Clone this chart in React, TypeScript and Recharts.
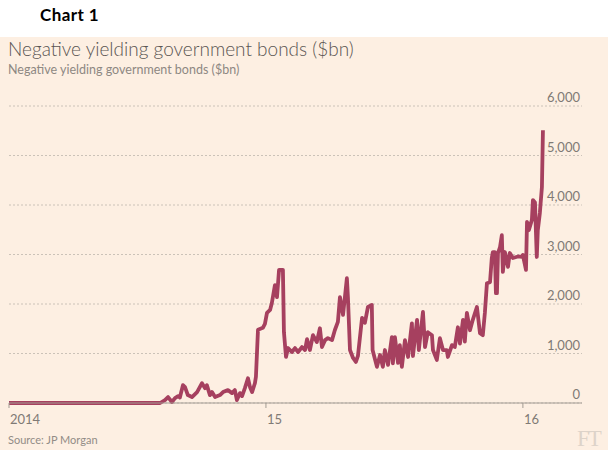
import { CartesianGrid, Line, LineChart, XAxis, YAxis } from 'recharts'

// Negative yielding government bonds, $bn. Dates as decimal years.
const YEARS = [
  2014.0, 2014.2, 2014.4, 2014.588, 2014.607, 2014.619, 2014.634, 2014.646, 2014.658, 2014.665,
  2014.677, 2014.685, 2014.696, 2014.712, 2014.732, 2014.751, 2014.763, 2014.77, 2014.782, 2014.79,
  2014.802, 2014.821, 2014.833, 2014.852, 2014.868, 2014.879, 2014.887, 2014.899, 2014.907, 2014.918,
  2014.93, 2014.938, 2014.946, 2014.957, 2014.961, 2014.969, 2014.988, 2014.996, 2015.004, 2015.016,
  2015.023, 2015.035, 2015.043, 2015.051, 2015.066, 2015.07, 2015.078, 2015.086, 2015.101, 2015.113,
  2015.125, 2015.14, 2015.152, 2015.16, 2015.171, 2015.183, 2015.198, 2015.21, 2015.218, 2015.23,
  2015.241, 2015.257, 2015.268, 2015.28, 2015.288, 2015.3, 2015.315, 2015.319, 2015.327, 2015.339,
  2015.35, 2015.358, 2015.374, 2015.385, 2015.397, 2015.412, 2015.415, 2015.432, 2015.444, 2015.455,
  2015.463, 2015.475, 2015.49, 2015.494, 2015.502, 2015.514, 2015.521, 2015.529, 2015.541, 2015.553,
  2015.568, 2015.572, 2015.588, 2015.595, 2015.611, 2015.619, 2015.63, 2015.646, 2015.65, 2015.665,
  2015.677, 2015.689, 2015.704, 2015.708, 2015.724, 2015.735, 2015.747, 2015.755, 2015.767, 2015.774,
  2015.782, 2015.794, 2015.805, 2015.821, 2015.833, 2015.844, 2015.852, 2015.86, 2015.872, 2015.879,
  2015.883, 2015.891, 2015.895, 2015.899, 2015.903, 2015.911, 2015.918, 2015.922, 2015.93, 2015.942,
  2015.949, 2015.961, 2015.981, 2015.996, 2016.0, 2016.012, 2016.016, 2016.023, 2016.035, 2016.039,
  2016.047, 2016.054, 2016.058, 2016.066, 2016.074, 2016.078,
]
const BONDS = [
  0, 0, 0, 0, 60, 120, 20, 100, 140, 110,
  360, 320, 160, 120, 220, 400, 300, 360, 160, 220,
  120, 160, 220, 260, 200, 260, 60, 200, 140, 300,
  500, 320, 220, 400, 530, 1480, 1520, 1600, 1820, 1880,
  2020, 2380, 2140, 2690, 2690, 1430, 930, 1110, 1030, 1110,
  1030, 1130, 1070, 1290, 1070, 1370, 1230, 1510, 1130, 1270,
  1310, 1270, 1470, 1640, 2140, 1780, 2520, 2140, 1070, 910,
  830, 950, 1720, 1620, 1940, 1980, 1070, 730, 970, 730,
  1070, 770, 1330, 800, 1330, 810, 1170, 730, 1270, 930,
  1610, 950, 1680, 1070, 1840, 1130, 1430, 1370, 1070, 870,
  1310, 1070, 1070, 930, 1170, 1130, 1530, 1200, 1680, 1240,
  1820, 1470, 1680, 1940, 1410, 1370, 1820, 2420, 2440, 2930,
  3050, 3050, 2220, 2220, 3030, 3150, 3390, 2650, 3050, 2750,
  3030, 2930, 2960, 2950, 2990, 2690, 3660, 3490, 3700, 4100,
  4050, 2950, 3490, 3840, 4360, 5510,
]

const X_TICKS = [2014, 2015, 2016]
const X_LABELS = ['2014', '15', '16']
const Y_TICKS = [0, 1000, 2000, 3000, 4000, 5000, 6000]
const Y_LABELS = ['0', '1,000', '2,000', '3,000', '4,000', '5,000', '6,000']

const BG = '#fdefe2'
const LINE = '#a6405f'
const AXIS_TEXT = '#807a75'
const GRID = '#cbc2b8'
const FONT = 'Lato, "Open Sans", sans-serif'

const data = YEARS.map((t, i) => ({ t, v: BONDS[i] }))

function XTick({ x, y, payload }: any) {
  const i = X_TICKS.indexOf(payload.value)
  return (
    <text x={x + 1} y={y + 14} textAnchor="start" fontSize={13} fill={AXIS_TEXT} fontFamily={FONT}>
      {X_LABELS[i]}
    </text>
  )
}

// Mirrored right axis: labels sit just above each gridline, right-aligned.
function YTick({ x, y, payload }: any) {
  const i = Y_TICKS.indexOf(payload.value)
  return (
    <text x={x - 2} y={y - 4} textAnchor="end" fontSize={13} fill={AXIS_TEXT} fontFamily={FONT}>
      {Y_LABELS[i]}
    </text>
  )
}

export default function App() {
  return (
    <div style={{ position: 'relative', width: 612, height: 459, background: '#fff', fontFamily: FONT }}>
      <style>{'body{margin:0}'}</style>
      <div
        style={{
          position: 'absolute', left: 40, top: 4, fontSize: 17, lineHeight: '21px',
          fontWeight: 700, color: '#000', letterSpacing: 0.4,
        }}
      >
        Chart 1
      </div>
      <div style={{ position: 'absolute', left: 0, top: 37, width: 608, height: 413, background: BG }} />
      <div
        style={{
          position: 'absolute', left: 8, top: 37, fontSize: 19, lineHeight: '24px',
          color: '#5a5552', whiteSpace: 'nowrap', fontWeight: 300,
        }}
      >
        Negative yielding government bonds ($bn)
      </div>
      <div
        style={{
          position: 'absolute', left: 8, top: 62, fontSize: 12.5, lineHeight: '15px',
          color: '#8e8882', whiteSpace: 'nowrap',
        }}
      >
        Negative yielding government bonds ($bn)
      </div>
      <div style={{ position: 'absolute', left: 0, top: 0 }}>
        <LineChart width={612} height={459} data={data} margin={{ top: 106, right: 30, bottom: 26, left: 9 }}>
          <CartesianGrid horizontal vertical={false} stroke={GRID} strokeDasharray="2 2" />
          <XAxis
            dataKey="t"
            type="number"
            domain={[2014, 2016.23]}
            ticks={X_TICKS}
            height={30}
            axisLine={{ stroke: '#a39b93' }}
            tickLine={{ stroke: '#a39b93' }}
            tickSize={5}
            tick={<XTick />}
            interval={0}
          />
          <YAxis
            orientation="right"
            mirror
            width={60}
            domain={[0, 6000]}
            ticks={Y_TICKS}
            axisLine={false}
            tickLine={false}
            tickSize={0}
            tickMargin={0}
            tick={<YTick />}
            interval={0}
          />
          <Line
            dataKey="v"
            type="linear"
            stroke={LINE}
            strokeWidth={3.8}
            strokeLinejoin="round"
            dot={false}
            isAnimationActive={false}
          />
        </LineChart>
      </div>
      <div
        style={{
          position: 'absolute', left: 8, top: 433, fontSize: 11, lineHeight: '14px',
          color: '#928c86', whiteSpace: 'nowrap',
        }}
      >
        Source: JP Morgan
      </div>
      <div
        style={{
          position: 'absolute', left: 577, top: 426, fontSize: 23, lineHeight: '26px',
          fontFamily: '"Liberation Serif", serif', color: '#ddd3c9', letterSpacing: -2,
        }}
      >
        FT
      </div>
    </div>
  )
}
